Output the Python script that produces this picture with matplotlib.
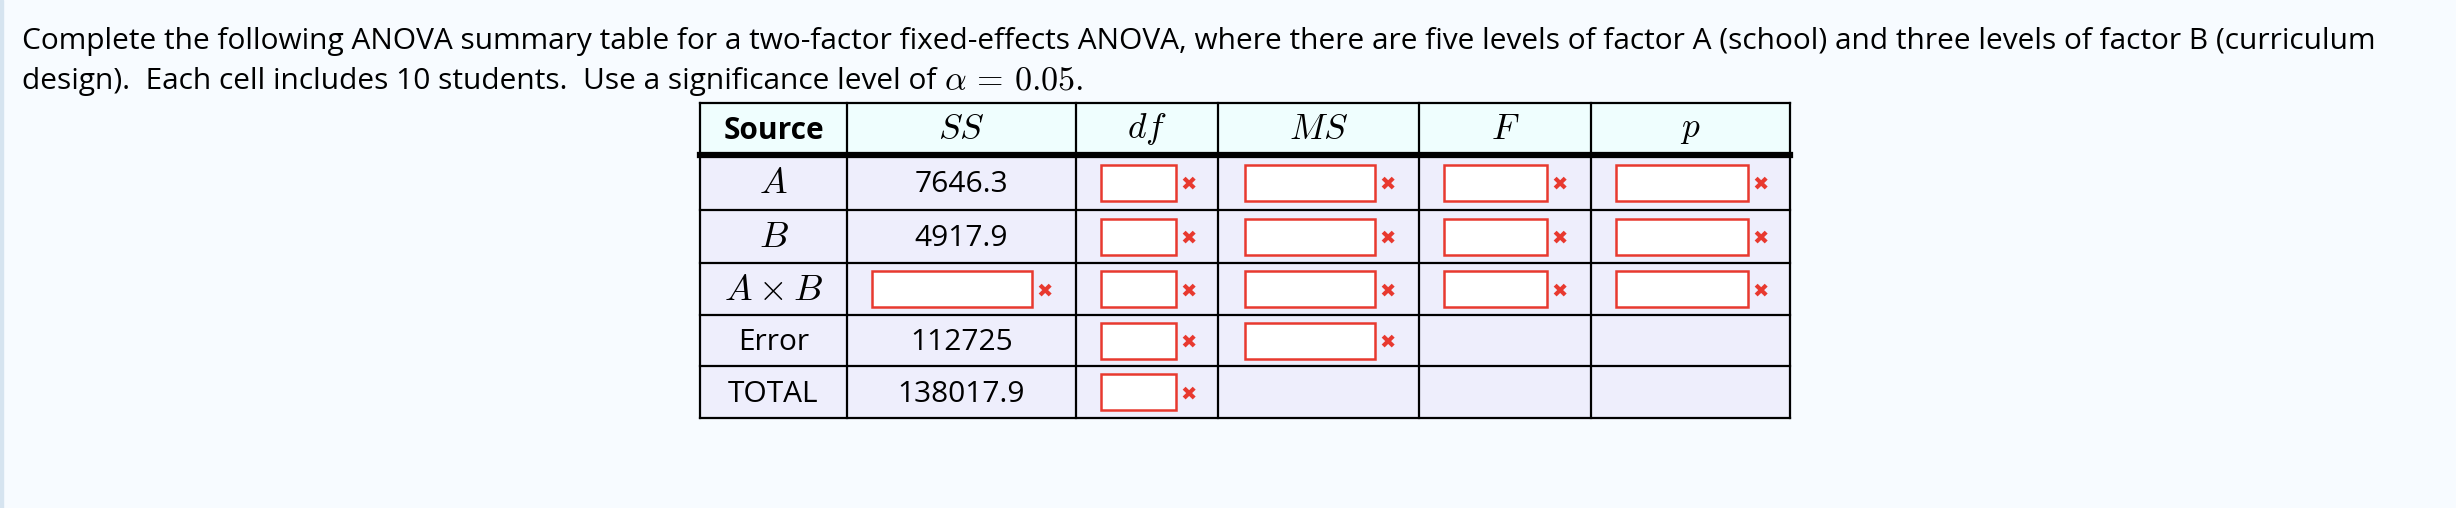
import matplotlib.pyplot as plt
from matplotlib.patches import Rectangle

# table content
headers = ["Source", "$SS$", "$df$", "$MS$", "$F$", "$p$"]
sources = ["$A$", "$B$", "$A \\times B$", "Error", "TOTAL"]
ss_values = ["7646.3", "4917.9", None, "112725", "138017.9"]
# which answer cells are blank input boxes (df, MS, F, p) per row
df_blank = [True, True, True, True, True]
ms_blank = [True, True, True, True, False]
f_blank = [True, True, True, False, False]
p_blank = [True, True, True, False, False]

col_x = [700, 847, 1076, 1218, 1419, 1591, 1790]
row_y = [103, 155, 210, 263, 315, 366, 418]
# input box extents (x0, x1) for SS, df, MS, F, p columns
box_x = {1: (872, 1032), 2: (1101, 1176), 3: (1245, 1375), 4: (1444, 1547), 5: (1616, 1748)}

fig = plt.figure(figsize=(24.56, 5.08), dpi=100)
fig.patch.set_facecolor("#f7fbff")
ax = fig.add_axes([0, 0, 1, 1])
ax.set_xlim(0, 2456)
ax.set_ylim(508, 0)
ax.axis("off")

ax.add_patch(Rectangle((0, 0), 3, 508, color="#d6e4f0"))

fs = 21.5
ax.text(22, 41, "Complete the following ANOVA summary table for a two-factor fixed-effects ANOVA, where there are five levels "
        "of factor A (school) and three levels of factor B (curriculum", fontsize=fs, family="Open Sans", va="center")
t2 = ax.text(22, 82, "design).  Each cell includes 10 students.  Use a significance level of",
             fontsize=fs, family="Open Sans", va="center")
renderer = fig.canvas.get_renderer()
x_end = t2.get_window_extent(renderer).x1
ax.text(x_end + 8, 80, "$\\alpha\\,=\\,0.05.$", fontsize=fs + 3, math_fontfamily="cm", va="center")

# backgrounds
ax.add_patch(Rectangle((col_x[0], row_y[0]), col_x[-1] - col_x[0], row_y[1] - row_y[0], color="#effefe"))
ax.add_patch(Rectangle((col_x[0], row_y[1]), col_x[-1] - col_x[0], row_y[-1] - row_y[1], color="#eeeefc"))

# grid lines
for x in col_x:
    ax.plot([x, x], [row_y[0], row_y[-1]], color="black", lw=1.6)
for i, y in enumerate(row_y):
    ax.plot([col_x[0], col_x[-1]], [y, y], color="black", lw=4.5 if i == 1 else 1.6)

def cx(c):
    return (col_x[c] + col_x[c + 1]) / 2

def cy(r):
    return (row_y[r] + row_y[r + 1]) / 2

for c, h in enumerate(headers):
    if c == 0:
        ax.text(cx(c), cy(0) + 2, h, fontsize=fs, family="Open Sans", weight="bold", ha="center", va="center")
    else:
        ax.text(cx(c), cy(0), h, fontsize=fs + 4, math_fontfamily="cm", ha="center", va="center")

def input_box(c, r):
    x0, x1 = box_x[c]
    y = cy(r + 1)
    ax.add_patch(Rectangle((x0, y - 18), x1 - x0, 36, facecolor="white", edgecolor="#e8392f", lw=1.8))
    ax.text(x1 + 13, y + 2, "\u2716", color="#e8392f", fontsize=14, ha="center", va="center", family="DejaVu Sans")

for r, src in enumerate(sources):
    y = cy(r + 1)
    if src.startswith("$"):
        ax.text(cx(0), y, src, fontsize=fs + 5, math_fontfamily="cm", ha="center", va="center")
    else:
        ax.text(cx(0), y + 2, src, fontsize=fs, family="Open Sans", ha="center", va="center")
    if ss_values[r] is None:
        input_box(1, r)
    else:
        ax.text(cx(1), y + 2, ss_values[r], fontsize=fs, family="Open Sans", ha="center", va="center")
    for c, blanks in zip([2, 3, 4, 5], [df_blank, ms_blank, f_blank, p_blank]):
        if blanks[r]:
            input_box(c, r)

fig.savefig("out.png", dpi=100, facecolor=fig.get_facecolor())
